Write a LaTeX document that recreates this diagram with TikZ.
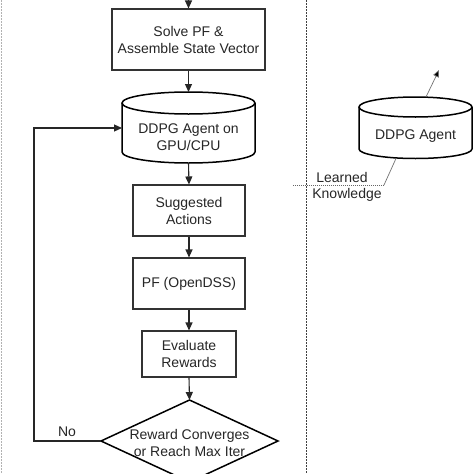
\documentclass[tikz,border=0pt]{standalone}
\usepackage{fontspec}
\setmainfont{Liberation Sans}
\usetikzlibrary{arrows.meta}
\begin{document}
\begin{tikzpicture}[x=1pt,y=-1pt,
  txt/.style={font=\fontsize{14}{17}\selectfont, text=black!85, align=center, inner sep=0pt},
  box/.style={txt, draw=black!80, line width=1.1pt},
  heavy/.style={draw=black, line width=1.5pt},
  arr/.style={draw=black!85, line width=1.1pt, -{Triangle[length=8pt,width=7pt]}},
  thin/.style={draw=black!55, line width=0.7pt}]
\useasboundingbox (0,0) rectangle (474,474);
\fill[white] (0,0) rectangle (474,474);
% dividers
\coordinate (ltop) at (1.5,0); \coordinate (lbot) at (1.5,474);
\draw[black!30, line width=1.2pt, dash pattern=on 1.5pt off 1.5pt] (ltop) -- (lbot);
\coordinate (mtop) at (306,0); \coordinate (mbot) at (306,474);
\draw[black!75, line width=1pt, dash pattern=on 1.5pt off 1.5pt] (mtop) -- (mbot);

% left flow
\node[box, minimum width=153pt, minimum height=61pt] (solve) at (188.5,39.5) {Solve PF \&\\Assemble State Vector};
\coordinate (top) at (188.5,0);

% cylinder 1
\draw[heavy, fill=white] (122,103) -- (122,152) arc[start angle=180, end angle=360, x radius=66.5pt, y radius=11pt] -- (255,103);
\draw[heavy] (188.5,103) ellipse [x radius=66.5pt, y radius=11pt];
\node[txt] (agent) at (188.5,137) {DDPG Agent on\\GPU/CPU};
\coordinate (c1top) at (188.5,92);
\coordinate (c1bot) at (188.5,163);
\coordinate (c1left) at (122,128);

\node[box, minimum width=112pt, minimum height=51pt] (sugg) at (189,210.5) {Suggested\\Actions};
\node[box, minimum width=112pt, minimum height=51pt] (pf) at (189,283.5) {PF (OpenDSS)};
\node[box, minimum width=94pt, minimum height=46pt] (eval) at (189,354) {Evaluate\\Rewards};

% diamond
\coordinate (dt) at (189.5,400);
\coordinate (dl) at (101,441);
\coordinate (dr) at (278,441);
\coordinate (db) at (189.5,482);
\draw[heavy] (dt) -- (dr) -- (db) -- (dl) -- cycle;
\node[txt] (cond) at (189.5,443) {Reward Converges\\or Reach Max Iter};

\draw[arr] (top) -- (solve.north);
\draw[arr] (solve.south) -- (c1top);
\draw[arr] (c1bot) -- (sugg.north);
\draw[arr] (sugg.south) -- (pf.north);
\draw[arr] (pf.south) -- (eval.north);
\draw[arr] (eval.south) -- (dt);
\coordinate (lb) at (34,441);
\coordinate (lt) at (34,128);
\draw[arr] (dl) -- (lb) -- (lt) -- (c1left);
\node[txt] (no) at (67,432) {No};

% right cylinder
\draw[heavy, fill=white] (359,107) -- (359,149) arc[start angle=180, end angle=360, x radius=56.5pt, y radius=9.5pt] -- (472,107);
\draw[heavy] (415.5,107) ellipse [x radius=56.5pt, y radius=10pt];
\node[txt] (agent2) at (415.5,136) {DDPG Agent};
\coordinate (c2top) at (426,97);
\coordinate (c2out) at (439,70);
\draw[thin, -{Triangle[length=7pt,width=6pt,fill=black]}] (c2top) -- (c2out);
\coordinate (c2bot) at (396,158.5);
\coordinate (kn) at (384,185);
\coordinate (knl) at (293,185);
\draw[thin] (c2bot) -- (kn);
\draw[black!60, line width=0.8pt, dash pattern=on 1pt off 1pt] (kn) -- (knl);
\node[txt] (learned) at (342,177) {Learned};
\node[txt] (know) at (347,195) {Knowledge};
\end{tikzpicture}
\end{document}
